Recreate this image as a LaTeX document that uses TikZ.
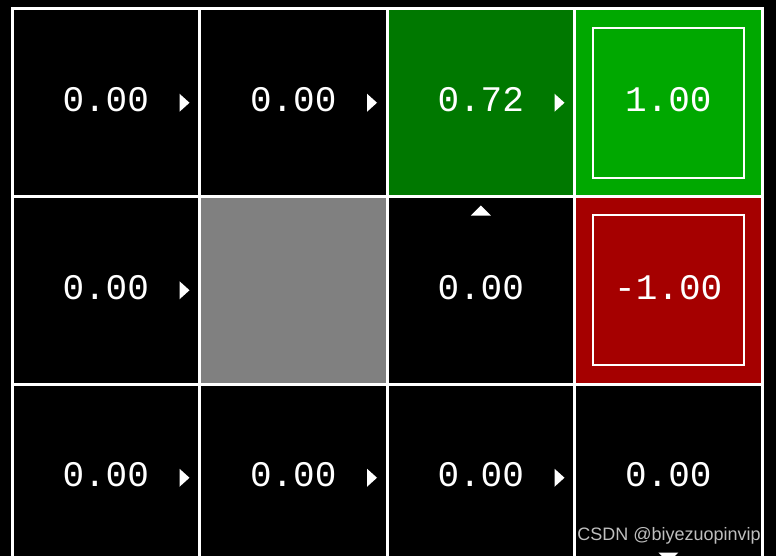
\documentclass[tikz,border=0pt]{standalone}
\usepackage{fontspec}
\setmonofont{Liberation Mono}
\setsansfont{Liberation Sans}
\definecolor{walkgreen}{RGB}{0,120,0}
\definecolor{goalgreen}{RGB}{0,168,0}
\definecolor{pitred}{RGB}{165,0,0}
\definecolor{wallgray}{RGB}{128,128,128}
\tikzset{
  cell/.style={draw=white, line width=3pt, fill=black, minimum width=187.5pt,
    minimum height=187.5pt, inner sep=0pt, outer sep=0pt, text=white,
    text depth=6pt, font=\ttfamily\fontsize{36}{40}\selectfont},
  endbox/.style={cell, fill=none, line width=2pt, minimum width=151pt,
    minimum height=150pt},
  tip/.style={fill=white}
}
\begin{document}
\begin{tikzpicture}[x=1pt,y=-1pt]
  \useasboundingbox (0,0) rectangle (776,556);
  \fill[black] (0,0) rectangle (776,556);
  \clip (0,0) rectangle (776,556);
  % top row
  \node[cell] (c00) at (105.75,102.75) {0.00};
  \node[cell] (c10) at (293.25,102.75) {0.00};
  \node[cell, fill=walkgreen] (c20) at (480.75,102.75) {0.72};
  \node[cell, fill=goalgreen] (c30) at (668.25,102.75) {};
  \node[endbox] (g30) at (c30) {1.00};
  % middle row
  \node[cell] (c01) at (105.75,290.25) {0.00};
  \node[cell, fill=wallgray] (c11) at (293.25,290.25) {};
  \node[cell] (c21) at (480.75,290.25) {0.00};
  \node[cell, fill=pitred] (c31) at (668.25,290.25) {};
  \node[endbox] (p31) at (c31) {-1.00};
  % bottom row
  \node[cell] (c02) at (105.75,477.75) {0.00};
  \node[cell] (c12) at (293.25,477.75) {0.00};
  \node[cell] (c22) at (480.75,477.75) {0.00};
  \node[cell] (c32) at (668.25,477.75) {0.00};
  % policy arrows
  \foreach \c in {c00,c10,c20,c01,c02,c12,c22}
    \fill[tip] ([xshift=-10pt]\c.east) -- ++(-10,-9) -- ++(0,18) -- cycle;
  \fill[tip] ([yshift=-9pt]c21.north) -- ++(-10,10) -- ++(20,0) -- cycle;
  \fill[tip] ([yshift=9pt]c32.south) -- ++(-10,-10) -- ++(20,0) -- cycle;
  \node[text=white!75!black, font=\sffamily\fontsize{18}{20}\selectfont,
    inner sep=0pt] (mark) at (669,536) {CSDN @biyezuopinvip};
\end{tikzpicture}
\end{document}
